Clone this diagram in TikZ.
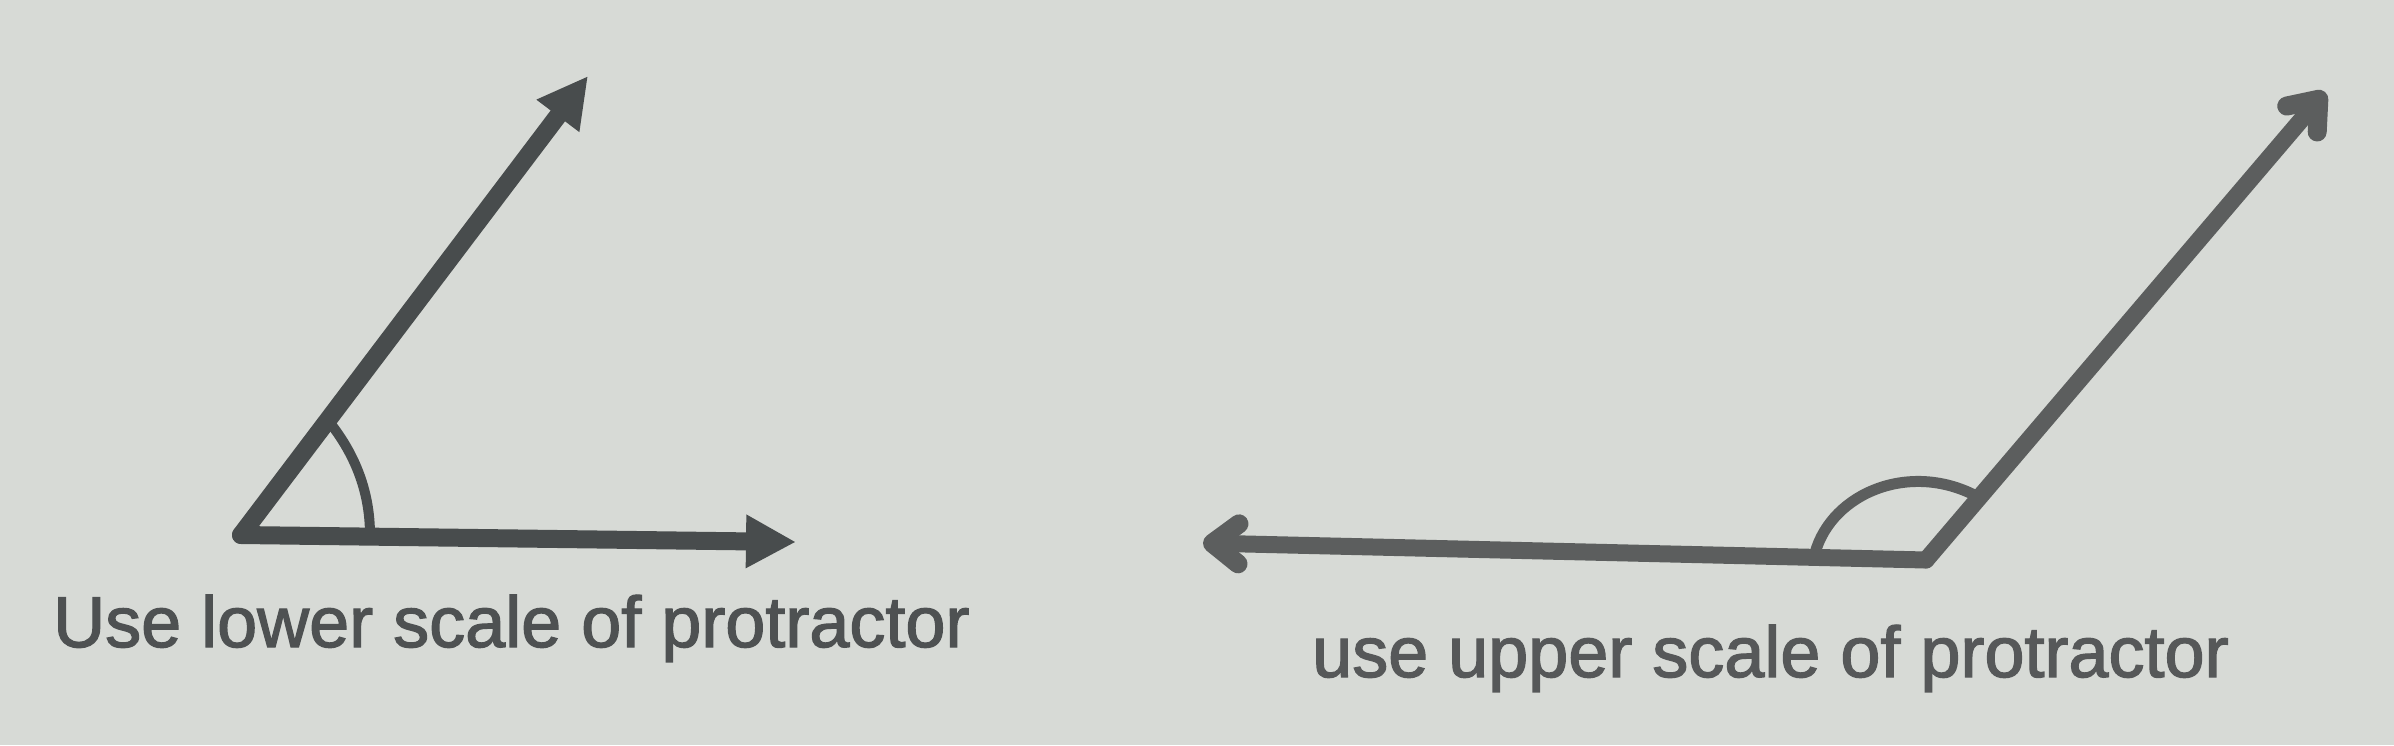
\documentclass[tikz,border=0pt]{standalone}
\usepackage{fontspec}
\setmainfont{Liberation Sans}
\newfontfamily\labelfont[FakeBold=1.8]{Liberation Sans}
\usetikzlibrary{arrows.meta,calc}
\definecolor{paper}{RGB}{215,218,214}
\definecolor{inkL}{RGB}{72,76,77}
\definecolor{inkR}{RGB}{92,94,94}
\definecolor{txtL}{RGB}{78,81,82}
\definecolor{txtR}{RGB}{86,88,89}
\tikzset{
  rayL/.style={draw=inkL, line width=18pt, line cap=round, line join=round,
    -{Triangle[length=50pt,width=50pt]}},
  rayR/.style={draw=inkR, line width=17pt, line cap=round, line join=round,
    -{Straight Barb[length=26pt,width=40pt,line width=19pt,round]}},
  arcL/.style={draw=inkL, line width=10pt, line cap=round},
  arcR/.style={draw=inkR, line width=11pt, line cap=round},
  label/.style={inner sep=0pt, anchor=base west, font=\labelfont\fontsize{72}{80}\selectfont}
}
\begin{document}
\begin{tikzpicture}[x=1pt,y=-1pt]
\useasboundingbox (0,0) rectangle (2394,745);
\fill[paper] (0,0) rectangle (2394,745);
% left angle
\coordinate (vL) at (241,535);
\coordinate (tipLup) at (588,76);
\coordinate (tipLr) at (796,542);
\coordinate (aL1) at ($(vL)!144pt!(tipLup)$);
\coordinate (aL2) at (370,535);
\draw[arcL] (aL1) .. controls ($(aL1)+(26,32)$) and (370,490) .. (aL2);
\draw[rayL] (vL) -- (tipLup);
\draw[rayL] (vL) -- (tipLr);
\node[label, text=txtL] (tL) at (53,647) {Use lower scale of protractor};
% right angle
\coordinate (vR) at (1926,560);
\coordinate (tipRup) at (2325,92);
\coordinate (tipRl) at (1203,543);
\coordinate (aR1) at (1815,553);
\coordinate (aR2) at ($(vR)!82pt!(tipRup)$);
\draw[arcR] (aR1) .. controls (1832,492) and (1912,460) .. (aR2);
\draw[rayR] (vR) -- (tipRup);
\draw[rayR] (vR) -- (tipRl);
\node[label, text=txtR] (tR) at (1312,677) {use upper scale of protractor};
\end{tikzpicture}
\end{document}
